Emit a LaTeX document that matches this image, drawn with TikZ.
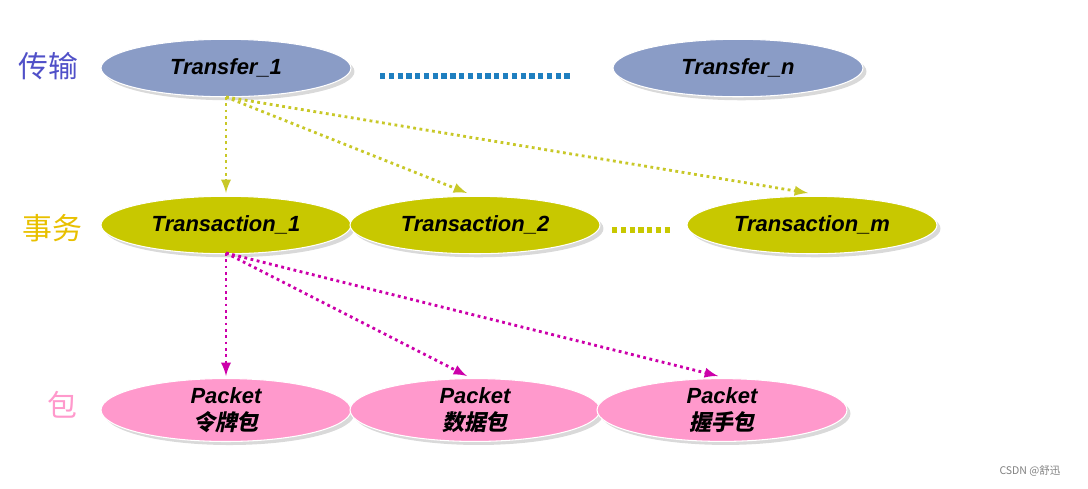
\documentclass[tikz,border=0pt]{standalone}
\usepackage{fontspec}
\setmainfont{Liberation Sans}
\newfontfamily\cjk{Noto Sans CJK SC}
\newfontfamily\cjkit[FakeSlant=0.2]{Noto Sans CJK SC}
\usetikzlibrary{shadows,shapes.geometric}
\definecolor{tblue}{HTML}{8A9CC6}
\definecolor{tyel}{HTML}{C8C800}
\definecolor{tpink}{HTML}{FF99CC}
\definecolor{ayel}{HTML}{C8C828}
\definecolor{amag}{HTML}{CC00AA}
\begin{document}
\begin{tikzpicture}[x=0.02cm,y=-0.02cm,
  ell/.style={ellipse,draw=white,line width=0.6pt,minimum width=5cm,minimum height=1.15cm,inner sep=0pt,
    drop shadow={shadow xshift=2pt,shadow yshift=-2pt,opacity=0.3},
    font=\fontsize{12.5}{14}\selectfont\bfseries\itshape,align=center},
  ya/.style={draw=ayel,line width=1.6pt,dotted,-latex},
  ma/.style={draw=amag,line width=1.6pt,dotted,-latex},
  lab/.style={font=\cjk\fontsize{17}{18}\selectfont}]
\useasboundingbox (0,0) rectangle (1088,488);
\node[ell,fill=tblue] (tr1) at (226,68) {Transfer\_1};
\node[ell,fill=tblue] (trn) at (738,68) {Transfer\_n};
\coordinate (b1) at (380,76); \coordinate (b2) at (570,76);
\draw[draw={rgb,255:red,31;green,127;blue,192},line width=3pt,dotted] (b1) -- (b2);
\node[ell,fill=tyel] (ta1) at (226,225) {Transaction\_1};
\node[ell,fill=tyel] (ta2) at (475,225) {Transaction\_2};
\node[ell,fill=tyel] (tam) at (812,225) {Transaction\_m};
\coordinate (y1) at (612,230); \coordinate (y2) at (672,230);
\draw[draw=tyel,line width=3pt,dotted] (y1) -- (y2);
\node[ell,fill=tpink,minimum height=1.25cm] (p1) at (226,410) {Packet\\[1pt]{\cjkit 令牌包}};
\node[ell,fill=tpink,minimum height=1.25cm] (p2) at (475,410) {Packet\\[1pt]{\cjkit 数据包}};
\node[ell,fill=tpink,minimum height=1.25cm] (p3) at (722,410) {Packet\\[1pt]{\cjkit 握手包}};
\coordinate (s1) at (226,97); \coordinate (s2) at (226,253);
\draw[ya] (s1) -- (226,193);
\draw[ya] (s1) -- (467,193);
\draw[ya] (s1) -- (808,193);
\draw[ma] (s2) -- (226,376);
\draw[ma] (s2) -- (467,376);
\draw[ma] (s2) -- (718,376);
\node[lab,text={rgb,255:red,80;green,80;blue,200}] (l1) at (48,66) {传输};
\node[lab,text={rgb,255:red,232;green,192;blue,0}] (l2) at (52,228) {事务};
\node[lab,text=tpink] (l3) at (62,405) {包};
\node[font=\cjk\fontsize{6}{7}\selectfont,text=gray] (w) at (1030,471) {CSDN @舒迅};
\end{tikzpicture}
\end{document}
